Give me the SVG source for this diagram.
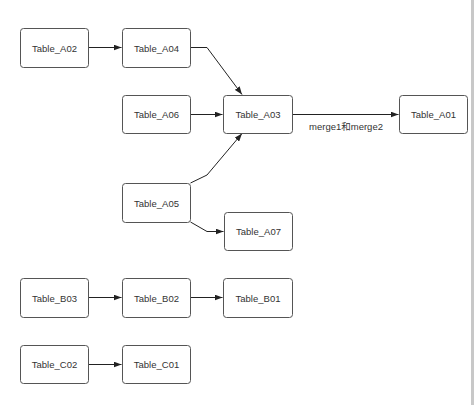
<svg xmlns="http://www.w3.org/2000/svg" width="474" height="405" viewBox="0 0 474 405">
<defs>
<style>
.n rect{fill:#fff;stroke:#555;stroke-width:1;}
.n text,.lbl{font-family:"Liberation Sans","Noto Sans CJK SC",sans-serif;font-size:9.5px;fill:#333;text-anchor:middle;dominant-baseline:central;}
.e{fill:none;stroke:#222;stroke-width:1;marker-end:url(#ah);}
</style>
<marker id="ah" viewBox="0 0 8 6" refX="8" refY="3" markerWidth="8" markerHeight="6" markerUnits="userSpaceOnUse" orient="auto">
<path d="M0,0 L8,3 L0,6 Z" fill="#222"/>
</marker>
</defs>
<rect width="474" height="405" fill="#fff"/>
<rect x="471" y="0" width="3" height="405" fill="#c8c8c8"/>
<g id="edges">
<path class="e" d="M88.5,47.5 H121.5"/>
<path class="e" d="M190.5,47.5 H207 L242,94.5"/>
<path class="e" d="M190.5,114.5 H222.5"/>
<path class="e" d="M190.5,183 L207,175 L242,133.5"/>
<path class="e" d="M190.5,222 L207,231.5 H223.5"/>
<path class="e" d="M292.5,114.5 H398.5"/>
<path class="e" d="M88.5,297.5 H121.5"/>
<path class="e" d="M190.5,297.5 H222.5"/>
<path class="e" d="M88.5,364.5 H121.5"/>
<text class="lbl" x="346" y="126">merge1和merge2</text>
</g>
<g id="Table_A02" class="n"><rect x="20.5" y="28.5" width="68" height="39" rx="3"/><text x="54.5" y="48">Table_A02</text></g>
<g id="Table_A04" class="n"><rect x="122.5" y="28.5" width="68" height="39" rx="3"/><text x="156.5" y="48">Table_A04</text></g>
<g id="Table_A06" class="n"><rect x="122.5" y="95.5" width="68" height="38" rx="3"/><text x="156.5" y="114.5">Table_A06</text></g>
<g id="Table_A03" class="n"><rect x="223.5" y="95.5" width="69" height="38" rx="3"/><text x="258" y="114.5">Table_A03</text></g>
<g id="Table_A01" class="n"><rect x="399.5" y="95.5" width="68" height="38" rx="3"/><text x="433.5" y="114.5">Table_A01</text></g>
<g id="Table_A05" class="n"><rect x="122.5" y="183.5" width="68" height="39" rx="3"/><text x="156.5" y="203">Table_A05</text></g>
<g id="Table_A07" class="n"><rect x="224.5" y="212.5" width="68" height="38" rx="3"/><text x="258.5" y="231.5">Table_A07</text></g>
<g id="Table_B03" class="n"><rect x="20.5" y="278.5" width="68" height="39" rx="3"/><text x="54.5" y="298">Table_B03</text></g>
<g id="Table_B02" class="n"><rect x="122.5" y="278.5" width="68" height="39" rx="3"/><text x="156.5" y="298">Table_B02</text></g>
<g id="Table_B01" class="n"><rect x="223.5" y="278.5" width="69" height="39" rx="3"/><text x="258" y="298">Table_B01</text></g>
<g id="Table_C02" class="n"><rect x="20.5" y="345.5" width="68" height="38" rx="3"/><text x="54.5" y="364.5">Table_C02</text></g>
<g id="Table_C01" class="n"><rect x="122.5" y="345.5" width="68" height="38" rx="3"/><text x="156.5" y="364.5">Table_C01</text></g>
</svg>
